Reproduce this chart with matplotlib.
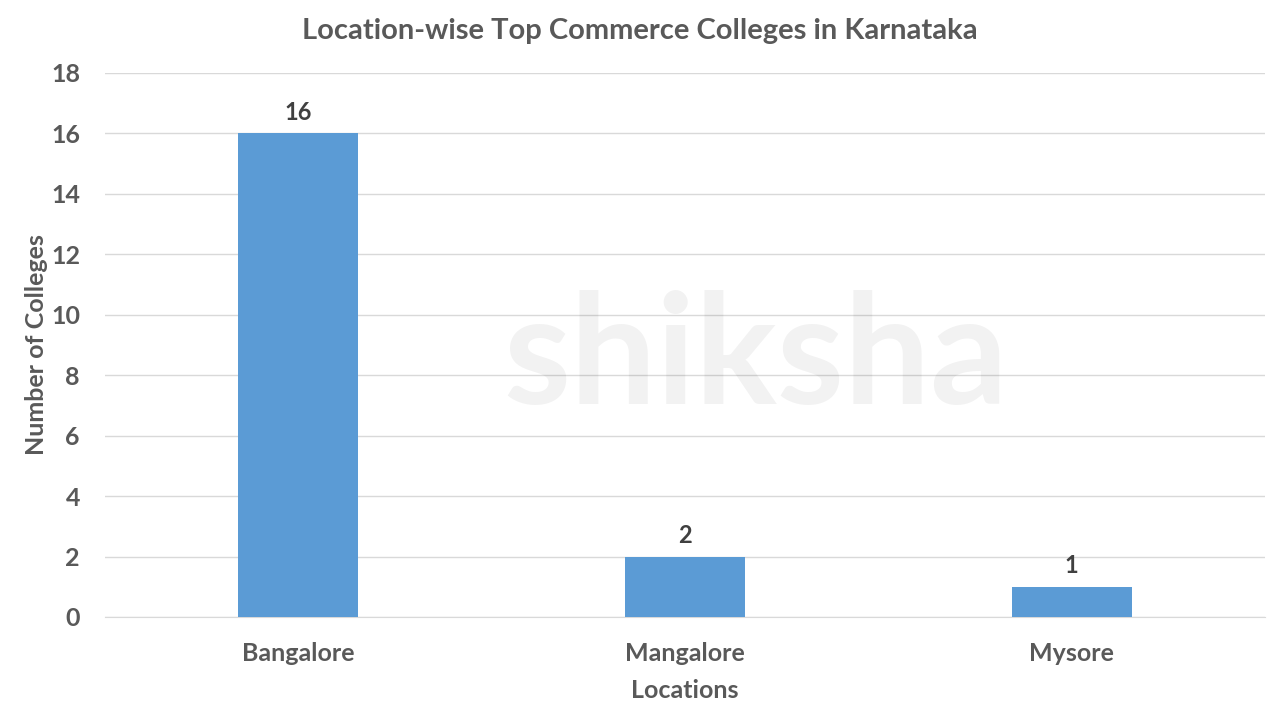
import matplotlib
matplotlib.use("Agg")
import matplotlib.pyplot as plt

categories = ["Bangalore", "Mangalore", "Mysore"]
values = [16, 2, 1]
yticks = [0, 2, 4, 6, 8, 10, 12, 14, 16, 18]

plt.rcParams['font.family'] = ['Lato', 'DejaVu Sans']
txt = '#595959'

fig = plt.figure(figsize=(12.8, 7.2), dpi=100)
ax = fig.add_axes([105/1280, 1-617/720, 1160/1280, (617-73)/720])

x = list(range(len(categories)))
bars = ax.bar(x, values, width=0.31, color='#5b9bd5', zorder=3)
for xi, v in zip(x, values):
    ax.annotate(str(v), (xi, v), xytext=(0, 7), textcoords='offset points',
                ha='center', va='bottom', fontsize=17, fontweight='bold', color='#404040')

ax.set_xlim(-0.5, len(categories)-0.5)
ax.set_ylim(0, 18)
ax.set_yticks(yticks)
ax.set_xticks(x)
ax.set_xticklabels(categories)
ax.yaxis.grid(True, color='#d9d9d9', linewidth=1, zorder=0)
ax.set_axisbelow(True)
for s in ['top', 'right', 'left']:
    ax.spines[s].set_visible(False)
ax.spines['bottom'].set_color('#d9d9d9')
ax.tick_params(axis='both', length=0, labelsize=18, labelcolor=txt)
ax.tick_params(axis='x', pad=18)
ax.tick_params(axis='y', pad=18)
for lab in ax.get_xticklabels() + ax.get_yticklabels():
    lab.set_fontweight('bold')

ax.set_xlabel('Locations', fontsize=18, fontweight='bold', color=txt, labelpad=10)
ax.set_ylabel('Number of Colleges', fontsize=18, fontweight='bold', color=txt, labelpad=2)
fig.text(0.5, 1-31/720, 'Location-wise Top Commerce Colleges in Karnataka',
         ha='center', va='center', fontsize=21, fontweight='bold', color=txt)

# faint watermark
fig.text(0.59, 0.50, 'shiksha', ha='center', va='center', fontsize=110,
         fontweight='bold', color='#000000', alpha=0.05, zorder=0)

fig.savefig('out.png', dpi=100)
